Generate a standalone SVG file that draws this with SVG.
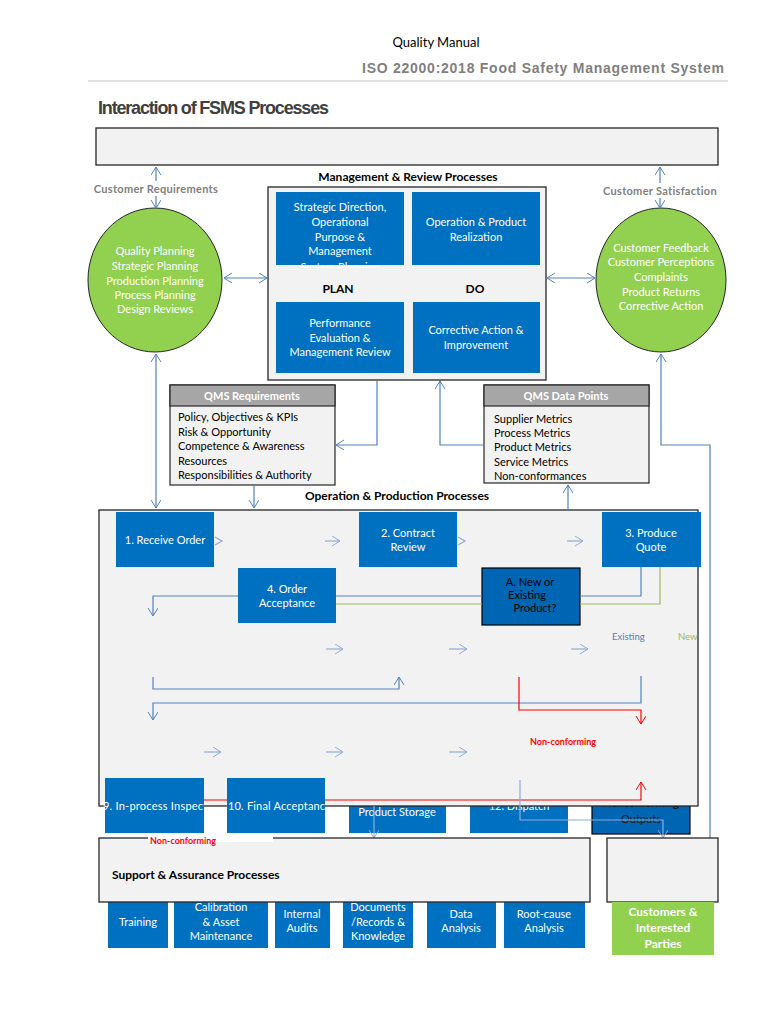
<svg xmlns="http://www.w3.org/2000/svg" width="768" height="1024" viewBox="0 0 768 1024">
<defs>
<marker id="ab" markerUnits="userSpaceOnUse" markerWidth="12" markerHeight="12" refX="8" refY="5" orient="auto-start-reverse"><path d="M0,0 L8,5 L0,10" fill="none" stroke="#4f81bd" stroke-width="1"/></marker>
<marker id="al" markerUnits="userSpaceOnUse" markerWidth="12" markerHeight="12" refX="8" refY="5" orient="auto-start-reverse"><path d="M0,0 L8,5 L0,10" fill="none" stroke="#8eaadb" stroke-width="1"/></marker>
<marker id="ar" markerUnits="userSpaceOnUse" markerWidth="12" markerHeight="12" refX="8" refY="5" orient="auto-start-reverse"><path d="M0,0 L8,5 L0,10" fill="none" stroke="#ff0000" stroke-width="1"/></marker>
<clipPath id="c1"><rect x="276" y="192" width="128" height="76"/></clipPath>
<clipPath id="c9"><rect x="100" y="778" width="104" height="55"/></clipPath>
<clipPath id="c10"><rect x="227" y="778" width="98" height="55"/></clipPath>
</defs>
<style>
text{font-family:Lato,"Noto Sans","Liberation Sans",sans-serif;}
.w{fill:#ffffff;font-size:11px;text-anchor:middle;}
.k{fill:#000000;font-size:11px;}
.kc{fill:#000000;font-size:11px;text-anchor:middle;}
.h{font-weight:bold;font-size:12px;fill:#000000;text-anchor:middle;}
.g{fill:#808080;font-size:11px;font-weight:bold;text-anchor:middle;letter-spacing:0.3px;}
.blue{fill:#0070c0;}
.dk{fill:#0065b3;stroke:#000000;stroke-width:1.2;}
.panel{fill:#f2f2f2;stroke:#262626;stroke-width:1.3;}
.c{fill:none;stroke:#4f81bd;stroke-width:1.2;}
.cl{fill:none;stroke:#8eaadb;stroke-width:1.2;}
.cr{fill:none;stroke:#ff0000;stroke-width:1.2;}
.cg{fill:none;stroke:#9bbb59;stroke-width:1.2;}
</style>
<rect x="0" y="0" width="768" height="1024" fill="#ffffff"/>

<g id="header">
<text x="436" y="47" style="font-size:13px;fill:#000;text-anchor:middle;font-family:Lato,'Noto Sans',sans-serif">Quality Manual</text>
<text x="362" y="73" textLength="362" style="font-family:'Liberation Sans',Arial,sans-serif;font-size:14px;font-weight:bold;fill:#7f7f7f">ISO 22000:2018 Food Safety Management System</text>
<line x1="88" y1="81" x2="728" y2="81" stroke="#d9d9d9" stroke-width="1.5"/>
<text x="98" y="114" textLength="231" style="font-family:'Liberation Sans',Arial,sans-serif;font-size:18px;font-weight:bold;fill:#404040">Interaction of FSMS Processes</text>
</g>

<g id="top-box"><rect x="96" y="128" width="622" height="37" class="panel"/></g>

<g id="customer-requirements"><text x="156" y="193" class="g">Customer Requirements</text></g>
<g id="customer-satisfaction"><text x="660" y="195" class="g">Customer Satisfaction</text></g>

<g id="planning-circle">
<ellipse cx="155" cy="280" rx="67" ry="72" fill="#92d050" stroke="#262626" stroke-width="1"/>
<text class="w" x="155" y="255">Quality Planning</text>
<text class="w" x="155" y="270">Strategic Planning</text>
<text class="w" x="155" y="285">Production Planning</text>
<text class="w" x="155" y="299">Process Planning</text>
<text class="w" x="155" y="313">Design Reviews</text>
</g>

<g id="feedback-circle">
<ellipse cx="661" cy="280" rx="65" ry="72" fill="#92d050" stroke="#262626" stroke-width="1"/>
<text class="w" x="661" y="252">Customer Feedback</text>
<text class="w" x="661" y="266">Customer Perceptions</text>
<text class="w" x="661" y="281">Complaints</text>
<text class="w" x="661" y="296">Product Returns</text>
<text class="w" x="661" y="310">Corrective Action</text>
</g>

<g id="management-review">
<text x="408" y="181" class="h">Management &amp; Review Processes</text>
<rect x="268" y="187" width="278" height="193" class="panel"/>
<rect x="276" y="192" width="128" height="73" class="blue"/>
<g clip-path="url(#c1)">
<text class="w" x="340" y="211">Strategic Direction,</text>
<text class="w" x="340" y="226">Operational</text>
<text class="w" x="340" y="241">Purpose &amp;</text>
<text class="w" x="340" y="255">Management</text>
<text class="w" x="340" y="271">System Planning</text>
</g>
<rect x="412" y="192" width="128" height="73" class="blue"/>
<text class="w" x="476" y="226">Operation &amp; Product</text>
<text class="w" x="476" y="241">Realization</text>
<text x="338" y="293" class="h">PLAN</text>
<text x="475" y="293" class="h">DO</text>
<rect x="276" y="302" width="128" height="71" class="blue"/>
<text class="w" x="340" y="327">Performance</text>
<text class="w" x="340" y="342">Evaluation &amp;</text>
<text class="w" x="340" y="356">Management Review</text>
<rect x="413" y="302" width="127" height="71" class="blue"/>
<text class="w" x="476" y="334">Corrective Action &amp;</text>
<text class="w" x="476" y="349">Improvement</text>
</g>

<g id="qms-requirements">
<rect x="170" y="385" width="165" height="100" fill="#f2f2f2" stroke="#262626" stroke-width="1.2"/>
<rect x="170" y="385" width="165" height="21" fill="#a6a6a6" stroke="#262626" stroke-width="1.2"/>
<text x="252" y="400" style="fill:#fff;font-size:11px;font-weight:bold;text-anchor:middle">QMS Requirements</text>
<text class="k" x="178" y="421">Policy, Objectives &amp; KPIs</text>
<text class="k" x="178" y="436">Risk &amp; Opportunity</text>
<text class="k" x="178" y="450">Competence &amp; Awareness</text>
<text class="k" x="178" y="465">Resources</text>
<text class="k" x="178" y="479">Responsibilities &amp; Authority</text>
</g>

<g id="qms-data-points">
<rect x="484" y="385" width="165" height="98" fill="#f2f2f2" stroke="#262626" stroke-width="1.2"/>
<rect x="484" y="385" width="165" height="21" fill="#a6a6a6" stroke="#262626" stroke-width="1.2"/>
<text x="566" y="400" style="fill:#fff;font-size:11px;font-weight:bold;text-anchor:middle">QMS Data Points</text>
<text class="k" x="494" y="423">Supplier Metrics</text>
<text class="k" x="494" y="437">Process Metrics</text>
<text class="k" x="494" y="451">Product Metrics</text>
<text class="k" x="494" y="466">Service Metrics</text>
<text class="k" x="494" y="480">Non-conformances</text>
</g>

<g id="hidden-boxes">
<rect x="349" y="778" width="97" height="55" class="blue"/>
<text class="w" x="397" y="816">Product Storage</text>
<rect x="470" y="778" width="98" height="55" class="blue"/>
<text class="w" x="519" y="810">12. Dispatch</text>
<rect x="592" y="778" width="98" height="56" class="dk"/>
<text class="kc" x="641" y="807">Nonconforming</text>
<text class="kc" x="641" y="823" style="fill:#1a1a1a">Outputs</text>
</g>

<g id="operation-production">
<text x="397" y="500" class="h">Operation &amp; Production Processes</text>
<rect x="99" y="510" width="599" height="296" class="panel"/>
<rect x="116" y="512" width="98" height="55" class="blue"/>
<text class="w" x="165" y="544">1. Receive Order</text>
<rect x="359" y="512" width="98" height="55" class="blue"/>
<text class="w" x="408" y="537">2. Contract</text>
<text class="w" x="408" y="551">Review</text>
<rect x="602" y="512" width="99" height="55" class="blue"/>
<text class="w" x="651" y="537">3. Produce</text>
<text class="w" x="651" y="551">Quote</text>
<rect x="238" y="568" width="98" height="55" class="blue"/>
<text class="w" x="287" y="593">4. Order</text>
<text class="w" x="287" y="607">Acceptance</text>
<rect x="482" y="568" width="98" height="57" class="dk"/>
<text class="kc" x="530" y="586">A. New or</text>
<text class="kc" x="527" y="599">Existing</text>
<text class="kc" x="535" y="612">Product?</text>
<text x="612" y="640" style="fill:#4f81bd;font-size:9.5px">Existing</text>
<text x="678" y="640" style="fill:#9bbb59;font-size:9.5px">New</text>
<text x="530" y="745" style="fill:#ff0000;font-size:9px;font-weight:bold">Non-conforming</text>
</g>

<g id="connectors">
<line x1="156" y1="181" x2="156" y2="167" class="c" marker-end="url(#ab)"/>
<line x1="156" y1="196" x2="156" y2="208" class="c" marker-end="url(#ab)"/>
<line x1="660" y1="183" x2="660" y2="167" class="c" marker-end="url(#ab)"/>
<line x1="660" y1="198" x2="660" y2="208" class="c" marker-end="url(#ab)"/>
<line x1="224" y1="278" x2="267" y2="278" class="c" marker-start="url(#ab)" marker-end="url(#ab)"/>
<line x1="547" y1="278" x2="595" y2="278" class="c" marker-start="url(#ab)" marker-end="url(#ab)"/>
<line x1="156" y1="354" x2="156" y2="508" class="c" marker-start="url(#ab)" marker-end="url(#ab)"/>
<polyline points="710,838 710,445 661,445 661,354" class="c" marker-end="url(#ab)"/>
<polyline points="377,381 377,445 336,445" class="c" marker-end="url(#ab)"/>
<polyline points="484,445 440,445 440,381" class="c" marker-end="url(#ab)"/>
<line x1="254" y1="486" x2="254" y2="508" class="c" marker-end="url(#ab)"/>
<line x1="568" y1="510" x2="568" y2="485" class="c" marker-end="url(#ab)"/>
<polyline points="215,537 222,541 215,545" class="cl"/>
<polyline points="458,537 465,541 458,545" class="cl"/>
<line x1="325" y1="541" x2="340" y2="541" class="cl" marker-end="url(#al)"/>
<line x1="567" y1="541" x2="583" y2="541" class="cl" marker-end="url(#al)"/>
<line x1="326" y1="649" x2="343" y2="649" class="cl" marker-end="url(#al)"/>
<line x1="449" y1="649" x2="467" y2="649" class="cl" marker-end="url(#al)"/>
<line x1="571" y1="649" x2="588" y2="649" class="cl" marker-end="url(#al)"/>
<line x1="204" y1="752" x2="221" y2="752" class="cl" marker-end="url(#al)"/>
<line x1="326" y1="752" x2="343" y2="752" class="cl" marker-end="url(#al)"/>
<line x1="449" y1="752" x2="467" y2="752" class="cl" marker-end="url(#al)"/>
<polyline points="641,567 641,596 580,596" class="c"/>
<line x1="482" y1="596" x2="336" y2="596" class="c"/>
<polyline points="238,596 153,596 153,616" class="c" marker-end="url(#ab)"/>
<polyline points="660,567 660,604 580,604" class="cg"/>
<line x1="482" y1="604" x2="336" y2="604" class="cg"/>
<polyline points="153,677 153,689 399,689 399,677" class="c" marker-end="url(#ab)"/>
<polyline points="641,676 641,703 153,703 153,720" class="c" marker-end="url(#ab)"/>
<polyline points="519,677 519,710 641,710 641,724" class="cr" marker-end="url(#ar)"/>
<polyline points="150,800 641,800 641,782" class="cr" marker-end="url(#ar)"/>
<line x1="374" y1="806" x2="374" y2="838" class="cl" marker-end="url(#al)"/>
<polyline points="520,780 520,820 663,820 663,838" class="cl" marker-end="url(#al)"/>
</g>

<g id="inspection-boxes">
<rect x="105" y="778" width="99" height="55" class="blue"/>
<g clip-path="url(#c9)"><text x="103" y="810" textLength="120" style="fill:#fff;font-size:11px">9. In-process Inspection</text></g>
<rect x="227" y="778" width="98" height="55" class="blue"/>
<g clip-path="url(#c10)"><text x="228" y="810" textLength="103" style="fill:#fff;font-size:11px">10. Final Acceptance</text></g>
</g>

<g id="support-items">
<rect x="108" y="895" width="60" height="53" class="blue"/>
<text class="w" x="138" y="926">Training</text>
<rect x="174" y="895" width="94" height="53" class="blue"/>
<text class="w" x="221" y="911">Calibration</text>
<text class="w" x="221" y="926">&amp; Asset</text>
<text class="w" x="221" y="940">Maintenance</text>
<rect x="275" y="895" width="55" height="53" class="blue"/>
<text class="w" x="302" y="918">Internal</text>
<text class="w" x="302" y="932">Audits</text>
<rect x="343" y="895" width="70" height="53" class="blue"/>
<text class="w" x="378" y="911">Documents</text>
<text class="w" x="378" y="926">/Records &amp;</text>
<text class="w" x="378" y="940">Knowledge</text>
<rect x="427" y="895" width="69" height="53" class="blue"/>
<text class="w" x="461" y="918">Data</text>
<text class="w" x="461" y="932">Analysis</text>
<rect x="504" y="895" width="81" height="53" class="blue"/>
<text class="w" x="544" y="918">Root-cause</text>
<text class="w" x="544" y="932">Analysis</text>
</g>

<g id="support-assurance">
<rect x="99" y="838" width="491" height="64" fill="#f2f2f2" stroke="#262626" stroke-width="1.3"/>
<rect x="148" y="834" width="125" height="8" fill="#ffffff"/>
<text x="150" y="844" style="fill:#ff0000;font-size:9px;font-weight:bold">Non-conforming</text>
<text x="112" y="879" style="font-size:12px;font-weight:bold;fill:#000">Support &amp; Assurance Processes</text>
</g>

<g id="customers">
<rect x="607" y="838" width="111" height="64" fill="#f2f2f2" stroke="#262626" stroke-width="1.3"/>
<rect x="612" y="902" width="102" height="53" fill="#92d050"/>
<text x="663" y="916" style="fill:#fff;font-size:12px;font-weight:bold;text-anchor:middle">Customers &amp;</text>
<text x="663" y="932" style="fill:#fff;font-size:12px;font-weight:bold;text-anchor:middle">Interested</text>
<text x="663" y="948" style="fill:#fff;font-size:12px;font-weight:bold;text-anchor:middle">Parties</text>
</g>
</svg>
